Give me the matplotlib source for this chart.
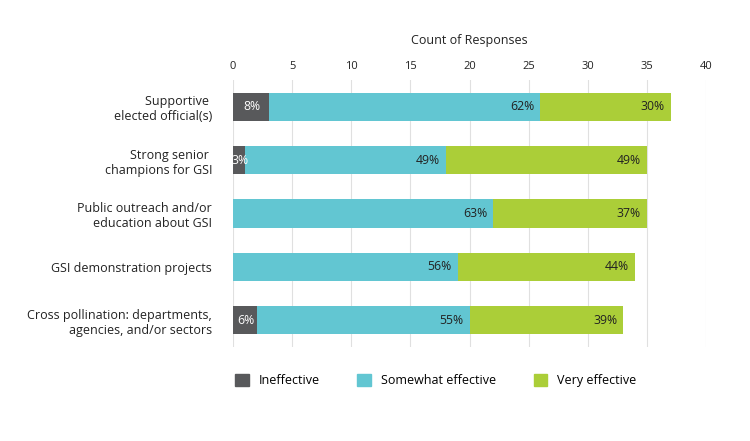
import matplotlib
matplotlib.use("Agg")
import matplotlib.pyplot as plt
import numpy as np
from matplotlib.patches import Patch

categories = ["Supportive \nelected official(s)",
              "Strong senior \nchampions for GSI",
              "Public outreach and/or\neducation about GSI",
              "GSI demonstration projects",
              "Cross pollination: departments,\nagencies, and/or sectors"]
ineffective = [3, 1, 0, 0, 2]
somewhat = [23, 17, 22, 19, 18]
very = [11, 17, 13, 15, 13]
series_names = ["Ineffective", "Somewhat effective", "Very effective"]
colors = ["#58595b", "#62c6d2", "#abce38"]
label_colors = ["white", "#222222", "#222222"]
xticks = [0, 5, 10, 15, 20, 25, 30, 35, 40]

plt.rcParams['font.family'] = ['Open Sans', 'DejaVu Sans']

fig = plt.figure(figsize=(7.5, 4.41), dpi=100)
ax = fig.add_axes([0.3107, 0.2132, 0.6307, 0.6054])

y = np.arange(len(categories))
data = [ineffective, somewhat, very]
totals = np.array(ineffective) + np.array(somewhat) + np.array(very)
left = np.zeros(len(categories))
for k, (vals, c, lc) in enumerate(zip(data, colors, label_colors)):
    vals = np.array(vals, dtype=float)
    ax.barh(y, vals, left=left, height=0.53, color=c, zorder=2)
    for i, v in enumerate(vals):
        if v > 0:
            pct = int(round(100 * v / totals[i]))
            if k == 0:
                ax.text(left[i] + v / 2 + 0.1, y[i], f"{pct}%", ha="center", va="center",
                        color=lc, fontsize=8.8, zorder=3)
            else:
                ax.text(left[i] + v - 0.5, y[i], f"{pct}%", ha="right", va="center",
                        color=lc, fontsize=8.8, zorder=3)
    left += vals

ax.set_xlim(0, 40)
ax.set_ylim(len(categories) - 0.5, -0.5)
ax.set_xticks(xticks)
ax.xaxis.tick_top()
ax.xaxis.set_label_position("top")
ax.set_xlabel("Count of Responses", fontsize=9, color="#222222", labelpad=12)
ax.tick_params(axis="x", length=0, labelsize=8, colors="#222222", pad=6)
ax.set_yticks(y)
ax.set_yticklabels(categories, fontsize=9, color="#222222", ha="right")
ax.tick_params(axis="y", length=0, pad=15)
ax.grid(axis="x", color="#e0e0e0", linewidth=0.8, zorder=0)
for s in ax.spines.values():
    s.set_visible(False)

handles = [Patch(facecolor=c, edgecolor=c) for c in colors]
fig.legend(handles, series_names, loc="center left", bbox_to_anchor=(0.298, 0.138),
           ncol=3, frameon=False, fontsize=9, handlelength=1.1, handleheight=1.1,
           columnspacing=3.0, handletextpad=0.8)

fig.savefig("out.png", dpi=100)
